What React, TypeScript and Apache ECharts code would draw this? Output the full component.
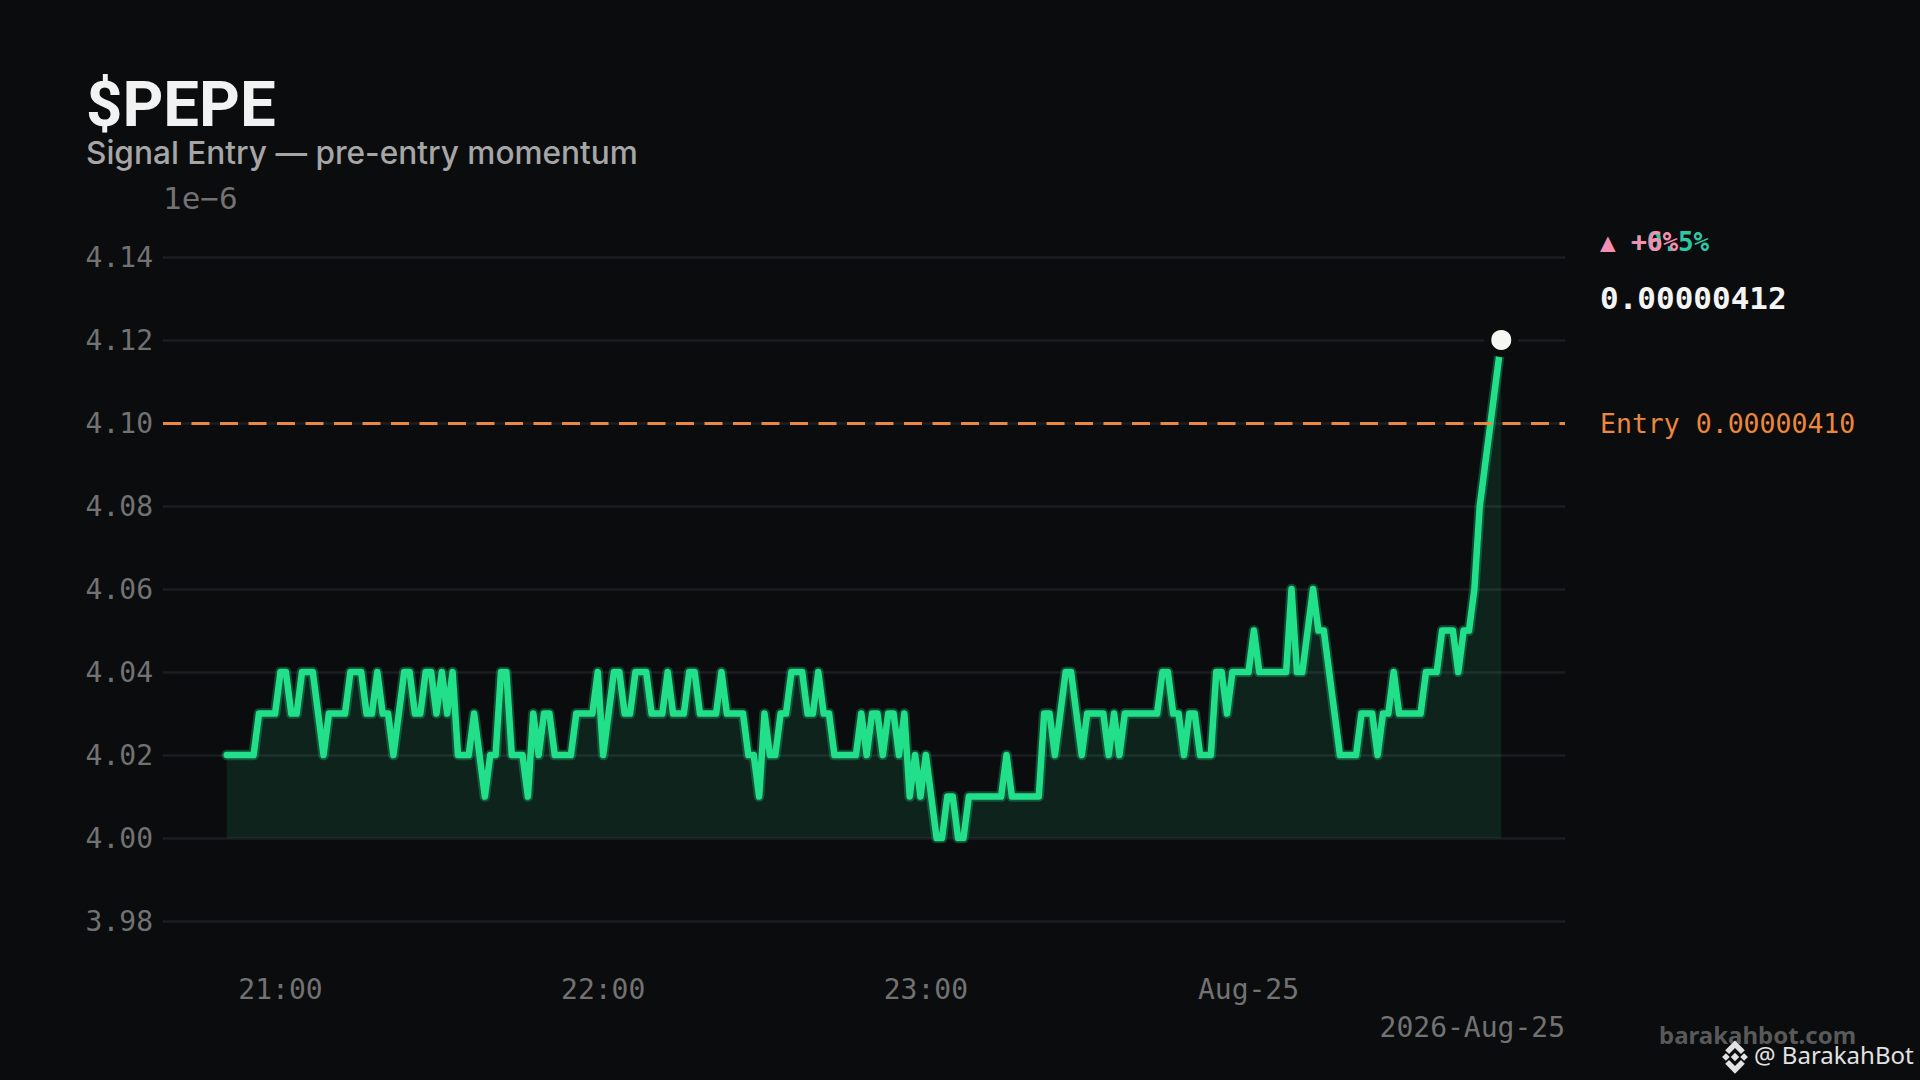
import { useEffect, useRef } from "react";
import * as echarts from "echarts";

// ---------- data ----------
const SYMBOL = "$PEPE";
const SUBTITLE = "Signal Entry — pre-entry momentum";
const SCALE_LABEL = "1e−6";
const SCALE = 1e-6;
const START_UTC = Date.UTC(2026, 7, 24, 20, 50);
const STEP_MS = 60000;

// price (in units of 1e-6), one point per minute from 20:50
const prices: number[] = [
  4.02, 4.02, 4.02, 4.02, 4.02, 4.02, 4.03, 4.03, 4.03, 4.03,
  4.04, 4.04, 4.03, 4.03, 4.04, 4.04, 4.04, 4.03, 4.02, 4.03,
  4.03, 4.03, 4.03, 4.04, 4.04, 4.04, 4.03, 4.03, 4.04, 4.03,
  4.03, 4.02, 4.03, 4.04, 4.04, 4.03, 4.03, 4.04, 4.04, 4.03,
  4.04, 4.03, 4.04, 4.02, 4.02, 4.02, 4.03, 4.02, 4.01, 4.02,
  4.02, 4.04, 4.04, 4.02, 4.02, 4.02, 4.01, 4.03, 4.02, 4.03,
  4.03, 4.02, 4.02, 4.02, 4.02, 4.03, 4.03, 4.03, 4.03, 4.04,
  4.02, 4.03, 4.04, 4.04, 4.03, 4.03, 4.04, 4.04, 4.04, 4.03,
  4.03, 4.03, 4.04, 4.03, 4.03, 4.03, 4.04, 4.04, 4.03, 4.03,
  4.03, 4.03, 4.04, 4.03, 4.03, 4.03, 4.03, 4.02, 4.02, 4.01,
  4.03, 4.02, 4.02, 4.03, 4.03, 4.04, 4.04, 4.04, 4.03, 4.03,
  4.04, 4.03, 4.03, 4.02, 4.02, 4.02, 4.02, 4.02, 4.03, 4.02,
  4.03, 4.03, 4.02, 4.03, 4.03, 4.02, 4.03, 4.01, 4.02, 4.01,
  4.02, 4.01, 4.00, 4.00, 4.01, 4.01, 4.00, 4.00, 4.01, 4.01,
  4.01, 4.01, 4.01, 4.01, 4.01, 4.02, 4.01, 4.01, 4.01, 4.01,
  4.01, 4.01, 4.03, 4.03, 4.02, 4.03, 4.04, 4.04, 4.03, 4.02,
  4.03, 4.03, 4.03, 4.03, 4.02, 4.03, 4.02, 4.03, 4.03, 4.03,
  4.03, 4.03, 4.03, 4.03, 4.04, 4.04, 4.03, 4.03, 4.02, 4.03,
  4.03, 4.02, 4.02, 4.02, 4.04, 4.04, 4.03, 4.04, 4.04, 4.04,
  4.04, 4.05, 4.04, 4.04, 4.04, 4.04, 4.04, 4.04, 4.06, 4.04,
  4.04, 4.05, 4.06, 4.05, 4.05, 4.04, 4.03, 4.02, 4.02, 4.02,
  4.02, 4.03, 4.03, 4.03, 4.02, 4.03, 4.03, 4.04, 4.03, 4.03,
  4.03, 4.03, 4.03, 4.04, 4.04, 4.04, 4.05, 4.05, 4.05, 4.04,
  4.05, 4.05, 4.06, 4.08, 4.09, 4.10, 4.11, 4.12,
];
const times: number[] = prices.map((_, i) => START_UTC + i * STEP_MS);

const ENTRY = 4.1;
const Y_MIN = 3.98;
const Y_MAX = 4.14;
const Y_STEP = 0.02;

const xTickTimes: number[] = [
  Date.UTC(2026, 7, 24, 21, 0),
  Date.UTC(2026, 7, 24, 22, 0),
  Date.UTC(2026, 7, 24, 23, 0),
  Date.UTC(2026, 7, 25, 0, 0),
];
const xTickLabels: string[] = ["21:00", "22:00", "23:00", "Aug-25"];
const DATE_LABEL = "2026-Aug-25";
const ALT_CHANGE = "▲ +6%";
const SITE = "barakahbot.com";
const HANDLE = "@ BarakahBot";

// ---------- style ----------
const BG = "#0b0c0e";
const GREEN = "#22e08a";
const ORANGE = "#ec873f";
const GRID = "#1c1d21";
const TICK = "#727272";
const MONO = "'DejaVu Sans Mono', monospace";

const LOGO_D =
  "M12 2.5L17.6 8.1L15.4 10.3L12 6.9L8.6 10.3L6.4 8.1Z" +
  "M12 21.5L6.4 15.9L8.6 13.7L12 17.1L15.4 13.7L17.6 15.9Z" +
  "M12 9.6L14.4 12L12 14.4L9.6 12Z" +
  "M4.6 12L6.8 9.8L9 12L6.8 14.2Z" +
  "M15 12L17.2 9.8L19.4 12L17.2 14.2Z";
let logoRegistered = false;
function ensureLogo() {
  if (logoRegistered) return;
  echarts.graphic.registerShape("bnbLogo", echarts.graphic.extendPath(LOGO_D, {}) as any);
  logoRegistered = true;
}

function txt(text: string, x: number, y: number, font: string, fill: string, align = "left") {
  return {
    type: "text",
    x,
    y,
    z: 10,
    style: {
      text,
      font,
      fill,
      align,
      verticalAlign: "middle",
      textAlign: align,
      textVerticalAlign: "middle",
    },
  };
}

export default function App() {
  const ref = useRef<HTMLDivElement>(null);

  useEffect(() => {
    if (!ref.current) return;
    ensureLogo();
    const chart = echarts.init(ref.current, null, { renderer: "svg" });

    const start = times[0];
    const end = times[times.length - 1];
    const span = end - start;
    const last = prices[prices.length - 1];
    const baseline = Math.min(...prices);
    const pct = ((last - ENTRY) / ENTRY) * 100;
    const pctText = (pct >= 0 ? "+" : "") + pct.toFixed(1) + "%";
    const lineData = times.map((t, i) => [t, prices[i]]);

    const option: any = {
      animation: false,
      backgroundColor: BG,
      grid: { left: 163, right: 355, top: 257, bottom: 159, containLabel: false },
      xAxis: {
        type: "value",
        min: start - span * 0.05,
        max: end + span * 0.05,
        axisLine: { show: false },
        axisTick: { show: false },
        splitLine: { show: false },
        axisLabel: {
          customValues: xTickTimes,
          formatter: (v: number) => {
            const k = xTickTimes.indexOf(v);
            return k >= 0 ? xTickLabels[k] : "";
          },
          color: TICK,
          fontFamily: MONO,
          fontSize: 28,
          margin: 54,
        },
      },
      yAxis: {
        type: "value",
        min: Y_MIN,
        max: Y_MAX,
        interval: Y_STEP,
        axisLine: { show: false },
        axisTick: { show: false },
        splitLine: { show: true, lineStyle: { color: GRID, width: 2.5 } },
        axisLabel: {
          formatter: (v: number) => v.toFixed(2),
          color: TICK,
          fontFamily: MONO,
          fontSize: 28,
          margin: 10,
        },
        name: SCALE_LABEL,
        nameLocation: "end",
        nameGap: 59,
        nameTextStyle: {
          align: "left",
          verticalAlign: "middle",
          color: TICK,
          fontFamily: MONO,
          fontSize: 31,
        },
      },
      series: [
        {
          type: "line",
          data: lineData,
          symbol: "none",
          silent: true,
          z: 2,
          lineStyle: { color: "rgba(34,224,138,0.28)", width: 10.5, cap: "round", join: "round" },
          markLine: {
            silent: true,
            symbol: ["none", "none"],
            data: [{ yAxis: ENTRY }],
            lineStyle: { color: ORANGE, width: 3, type: [18, 10.5], cap: "butt" },
            label: {
              show: true,
              position: "end",
              distance: 35,
              formatter: () => "Entry " + (ENTRY * SCALE).toFixed(8),
              color: ORANGE,
              fontFamily: MONO,
              fontSize: 26.5,
            },
          },
        },
        {
          type: "line",
          data: lineData,
          symbol: "none",
          silent: true,
          z: 3,
          lineStyle: { color: GREEN, width: 6.5, cap: "round", join: "round" },
          areaStyle: { origin: baseline, color: "rgba(34,224,138,0.16)" },
        },
        {
          type: "scatter",
          data: [[end, last]],
          symbolSize: 27,
          silent: true,
          z: 5,
          itemStyle: { color: "#f6f6f2", borderColor: BG, borderWidth: 7, opacity: 1 },
        },
      ],
      graphic: [
        txt(SYMBOL, 86, 104, "bold 63.5px Roboto", "#f2f2f2"),
        txt(SUBTITLE, 86, 152, "500 31.6px Inter", "#a6a6a6"),
        txt(pctText, 1631, 242, "bold 26px " + MONO, "#2fc8a6"),
        txt(ALT_CHANGE, 1600, 242, "bold 26px " + MONO, "#f48fb1"),
        txt((last * SCALE).toFixed(8), 1600, 298, "bold 31px " + MONO, "#f4f4f4"),
        txt(DATE_LABEL, 1565, 1027, "28px " + MONO, TICK, "right"),
        txt(SITE, 1659, 1034, "bold 24px 'Noto Sans'", "#595959"),
        {
          type: "bnbLogo",
          x: 1714,
          y: 1036,
          scaleX: 1.75,
          scaleY: 1.75,
          z: 11,
          style: { fill: "#e2e2e2" },
        },
        txt(HANDLE, 1754, 1054, "24px 'Noto Sans'", "#e2e2e2"),
      ],
    };

    chart.setOption(option);
    return () => chart.dispose();
  }, []);

  return (
    <div
      ref={ref}
      style={{ position: "fixed", left: 0, top: 0, width: 1920, height: 1080, background: BG }}
    />
  );
}
